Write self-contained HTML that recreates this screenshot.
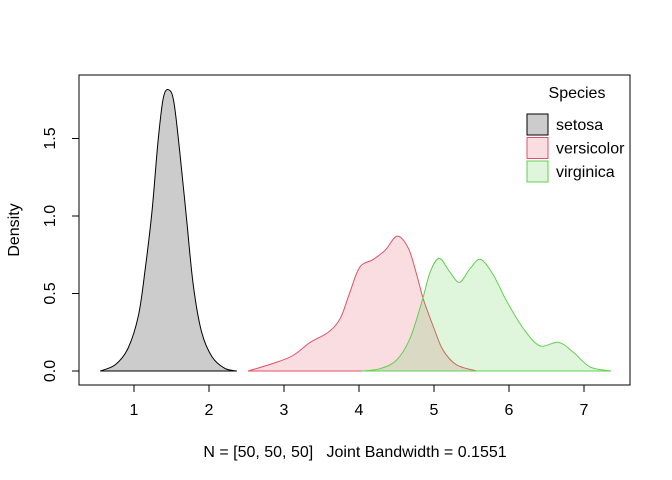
<!DOCTYPE html>
<html><head><meta charset="utf-8"><style>
body{margin:0;background:#fff}
svg{display:block;font-family:"Liberation Sans",sans-serif}
</style></head><body>
<svg id="c" width="672" height="480"></svg>
<script>
const setosaX=[0.55,0.75,0.92,1.06,1.15,1.24,1.32,1.39,1.46,1.53,1.61,1.70,1.79,1.90,2.04,2.21,2.37];
const setosaY=[0,0.04,0.146,0.36,0.66,1.03,1.48,1.76,1.815,1.74,1.415,0.985,0.555,0.254,0.092,0.017,0];
const versiX=[2.52,2.86,3.12,3.35,3.59,3.75,3.88,4.01,4.19,4.35,4.51,4.66,4.77,4.86,5.0,5.12,5.30,5.57];
const versiY=[0,0.05,0.10,0.185,0.25,0.34,0.51,0.67,0.72,0.78,0.87,0.79,0.62,0.46,0.275,0.135,0.04,0];
const virgX=[4.04,4.28,4.50,4.68,4.84,4.95,5.07,5.21,5.34,5.48,5.62,5.79,5.97,6.19,6.41,6.66,6.86,7.08,7.36];
const virgY=[0,0.015,0.07,0.21,0.45,0.64,0.727,0.64,0.572,0.66,0.72,0.62,0.45,0.275,0.163,0.185,0.12,0.026,0];
const xTicks=[1,2,3,4,5,6,7];
const yTicks=[0,0.5,1.0,1.5];
const yTickLabels=["0.0","0.5","1.0","1.5"];
const legendLabels=["setosa","versicolor","virginica"];

const NS="http://www.w3.org/2000/svg";
const svg=document.getElementById('c');
const FS=16;
const sx=v=>134+(v-1)*75;
const sy=v=>371-v*155;
function mk(t,a,p){const e=document.createElementNS(NS,t);for(const k in a)e.setAttribute(k,a[k]);(p||svg).appendChild(e);return e;}
function path(xs,ys){
  const P=xs.map((x,i)=>[sx(x),sy(ys[i])]);
  let d=`M${P[0][0]},${P[0][1]}`;
  for(let i=0;i<P.length-1;i++){
    const p0=P[Math.max(0,i-1)],p1=P[i],p2=P[i+1],p3=P[Math.min(P.length-1,i+2)];
    const c1=[p1[0]+(p2[0]-p0[0])/6,p1[1]+(p2[1]-p0[1])/6];
    const c2=[p2[0]-(p3[0]-p1[0])/6,p2[1]-(p3[1]-p1[1])/6];
    d+=` C${c1[0]},${c1[1]} ${c2[0]},${c2[1]} ${p2[0]},${p2[1]}`;
  }
  return d;
}
const series=[[setosaX,setosaY,"#cccccc","#000","setosa"],[versiX,versiY,"rgba(223,83,107,0.2)","#DF536B","versicolor"],[virgX,virgY,"rgba(97,208,79,0.2)","#61D04F","virginica"]];
series.forEach(s=>{
  const e=mk('path',{d:path(s[0],s[1])+'Z',fill:s[2],stroke:s[3],'stroke-width':1});
  
  
});
const box=mk('rect',{x:79,y:75,width:551,height:310,fill:'none',stroke:'#000'});


xTicks.forEach(t=>{
  mk('line',{x1:sx(t),x2:sx(t),y1:385,y2:392,stroke:'#000'});
  const l=mk('text',{x:sx(t),y:415,'text-anchor':'middle','font-size':FS});l.textContent=t;
  
  
});
mk('line',{x1:sx(1),x2:sx(7),y1:385,y2:385,stroke:'#000'});
yTicks.forEach((t,i)=>{
  mk('line',{x1:72,x2:79,y1:sy(t),y2:sy(t),stroke:'#000'});
  const l=mk('text',{x:55,y:sy(t),'text-anchor':'middle','font-size':FS,transform:`rotate(-90 55 ${sy(t)})`});l.textContent=yTickLabels[i];
  
  
});
const yl=mk('text',{x:19,y:230,'text-anchor':'middle','font-size':FS,transform:'rotate(-90 19 230)'});yl.textContent='Density';


const xl=mk('text',{x:355,y:457,'text-anchor':'middle','font-size':FS});xl.textContent='N = [50, 50, 50]   Joint Bandwidth = 0.1551';


xl.style.whiteSpace='pre';
const lt=mk('text',{x:577,y:98,'text-anchor':'middle','font-size':FS});lt.textContent='Species';


legendLabels.forEach((n,i)=>{
  const y=114+i*23.5;
  const r=mk('rect',{x:527,y:y,width:21,height:21,fill:series[i][2],stroke:series[i][3]});
  
  
  const t=mk('text',{x:556,y:y+16,'font-size':FS});t.textContent=n;
  
  
});
</script>
</body></html>
